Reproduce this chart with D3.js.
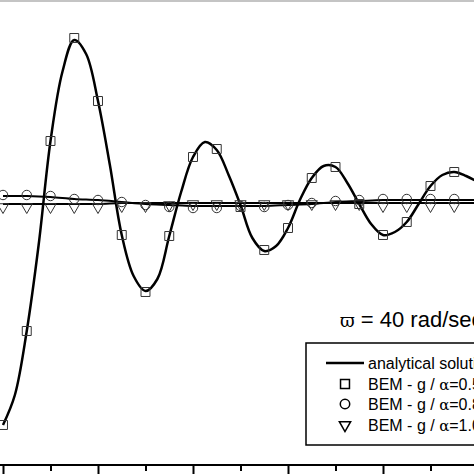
<!DOCTYPE html>
<html><head><meta charset="utf-8">
<script src="https://cdn.jsdelivr.net/npm/d3@7"></script>
<style>html,body{margin:0;padding:0;background:#fff;overflow:hidden}svg{display:block}</style>
</head><body>
<script>
// time axis (s), markers every 0.025 s
const markerTimes = d3.range(20).map(i => i * 0.025);
const curveTimes = d3.range(41).map(i => i * 0.0125);
const lineTimesFlat = d3.range(21).map(i => i * 0.025);

// analytical solution (oscillating), sampled every 0.0125 s
const analytical = [-2.22,-1.92,-1.28,-0.42,0.62,1.31,1.63,1.49,1.02,0.38,-0.32,-0.73,-0.88,-0.76,-0.33,0.11,0.46,0.61,0.53,0.28,-0.02,-0.35,-0.48,-0.43,-0.25,0.03,0.25,0.37,0.36,0.20,-0.01,-0.21,-0.32,-0.29,-0.19,-0.01,0.17,0.28,0.31,0.27,0.21];
// two nearly flat curves
const flatA = [0.07,0.07,0.06,0.04,0.03,0.01,-0.01,-0.02,-0.03,-0.03,-0.03,-0.03,-0.02,-0.01,0.01,0.02,0.03,0.03,0.03,0.03,0.03];
const flatB = [-0.01,-0.01,-0.01,-0.01,-0.01,0,0,0,0,0,0,0,0,0,0,0,0,0,0,0,0];

// BEM series
const bemSquares = [-2.22,-1.28,0.62,1.65,1.02,-0.32,-0.89,-0.33,0.46,0.54,-0.04,-0.47,-0.25,0.25,0.36,-0.01,-0.32,-0.19,0.17,0.31];
const bemCircles = [0.07,0.07,0.06,0.03,0.02,0,-0.03,-0.05,-0.06,-0.06,-0.04,-0.05,-0.03,-0.01,0.01,0.02,0.03,0.03,0.03,0.03];
const bemTriangles = [-0.03,-0.03,-0.03,-0.03,-0.03,-0.02,-0.02,-0.01,0,0,0,0,0,0,0,0,-0.02,-0.02,-0.02,-0.02];

const majorTicks = [0, 0.1, 0.2, 0.3, 0.4, 0.5];
const minorTicks = [0.05, 0.15, 0.25, 0.35, 0.45];

const legendLabels = ["analytical solution", "BEM - g / ", "BEM - g / ", "BEM - g / "];
const legendAlpha = ["", "=0.5", "=0.8", "=1.0"];
const annotation = "= 40 rad/sec";

const W = 474, H = 474;
const svg = d3.select("body").append("svg").attr("width", W).attr("height", H);
svg.append("defs").append("clipPath").attr("id","clip").append("rect").attr("width",W).attr("height",H);
const g = svg.append("g").attr("clip-path","url(#clip)");

const x = d3.scaleLinear().domain([0, 0.5]).range([3, 478]);
const y = d3.scaleLinear().domain([-2.62, 2.03]).range([465, 0]);

// top frame (gray)
g.append("line").attr("x1",0).attr("x2",W).attr("y1",1).attr("y2",1).attr("stroke","#c4c4c4").attr("stroke-width",2);

// axis
const axis = d3.axisBottom(x).tickValues(majorTicks).tickSize(9).tickFormat("");
const ax = g.append("g").attr("transform","translate(0,465)").call(axis);
ax.select(".domain").remove();
ax.selectAll("line").attr("stroke","#000").attr("stroke-width",2);
const axm = g.append("g").attr("transform","translate(0,465)").call(d3.axisBottom(x).tickValues(minorTicks).tickSize(6).tickFormat(""));
axm.select(".domain").remove();
axm.selectAll("line").attr("stroke","#000").attr("stroke-width",2);
g.append("line").attr("x1",0).attr("x2",W).attr("y1",465).attr("y2",465).attr("stroke","#000").attr("stroke-width",2);

const line = d3.line().x(d => x(d[0])).y(d => y(d[1])).curve(d3.curveCatmullRom.alpha(0.5));
g.append("path").datum(lineTimesFlat.map((t,i)=>[t,flatA[i]])).attr("d",line).attr("fill","none").attr("stroke","#000").attr("stroke-width",2);
g.append("path").datum(lineTimesFlat.map((t,i)=>[t,flatB[i]])).attr("d",line).attr("fill","none").attr("stroke","#000").attr("stroke-width",2);
g.append("path").datum(curveTimes.map((t,i)=>[t,analytical[i]])).attr("d",line).attr("fill","none").attr("stroke","#000").attr("stroke-width",2.5);

const mStroke = "#333";
const sq = d3.symbol().type(d3.symbolSquare).size(80);
const ci = d3.symbol().type(d3.symbolCircle).size(70);
const tri = d3.symbol().type(d3.symbolTriangle).size(55);

g.selectAll(".sq").data(markerTimes.map((t,i)=>[t,bemSquares[i]])).join("path")
  .attr("d", sq).attr("transform", d=>`translate(${x(d[0])},${y(d[1])})`)
  .attr("fill","none").attr("stroke",mStroke).attr("stroke-width",1);
g.selectAll(".ci").data(markerTimes.map((t,i)=>[t,bemCircles[i]])).join("path")
  .attr("d", ci).attr("transform", d=>`translate(${x(d[0])},${y(d[1])-1})`)
  .attr("fill","none").attr("stroke",mStroke).attr("stroke-width",1);
g.selectAll(".tr").data(markerTimes.map((t,i)=>[t,bemTriangles[i]])).join("path")
  .attr("d", tri).attr("transform", d=>`translate(${x(d[0])},${y(d[1])+1}) rotate(180)`)
  .attr("fill","none").attr("stroke",mStroke).attr("stroke-width",1);

// annotation
const ann = g.append("text").attr("x",340).attr("y",327).attr("font-family","Liberation Sans, Arial, sans-serif").attr("font-size",22).attr("fill","#000");
ann.append("tspan").attr("font-family","DejaVu Serif, serif").attr("font-size",18).text("ϖ");
ann.append("tspan").text(" " + annotation);

// legend
const lg = g.append("g");
lg.append("rect").attr("x",306).attr("y",343).attr("width",200).attr("height",102).attr("fill","#fff").attr("stroke","#000").attr("stroke-width",1.5);
const rowsY = [363, 384, 404, 425];
lg.append("line").attr("x1",326).attr("x2",364).attr("y1",rowsY[0]).attr("y2",rowsY[0]).attr("stroke","#000").attr("stroke-width",2.5);
const legSyms = [sq, ci, tri];
legSyms.forEach((s,i)=>{
  lg.append("path").attr("d", s).attr("transform", `translate(345,${rowsY[i+1]})` + (i===2?" rotate(180)":""))
    .attr("fill","none").attr("stroke","#000").attr("stroke-width",1.5);
});
legendLabels.forEach((lab,i)=>{
  const t = lg.append("text").attr("x",368).attr("y",rowsY[i]+6).attr("font-family","Liberation Sans, Arial, sans-serif").attr("font-size",16).attr("fill","#000");
  t.append("tspan").text(lab);
  if (i>0) {
    t.append("tspan").attr("font-family","DejaVu Serif, serif").attr("font-size",15).text("α");
    t.append("tspan").text(legendAlpha[i]);
  }
});
</script>
</body></html>
